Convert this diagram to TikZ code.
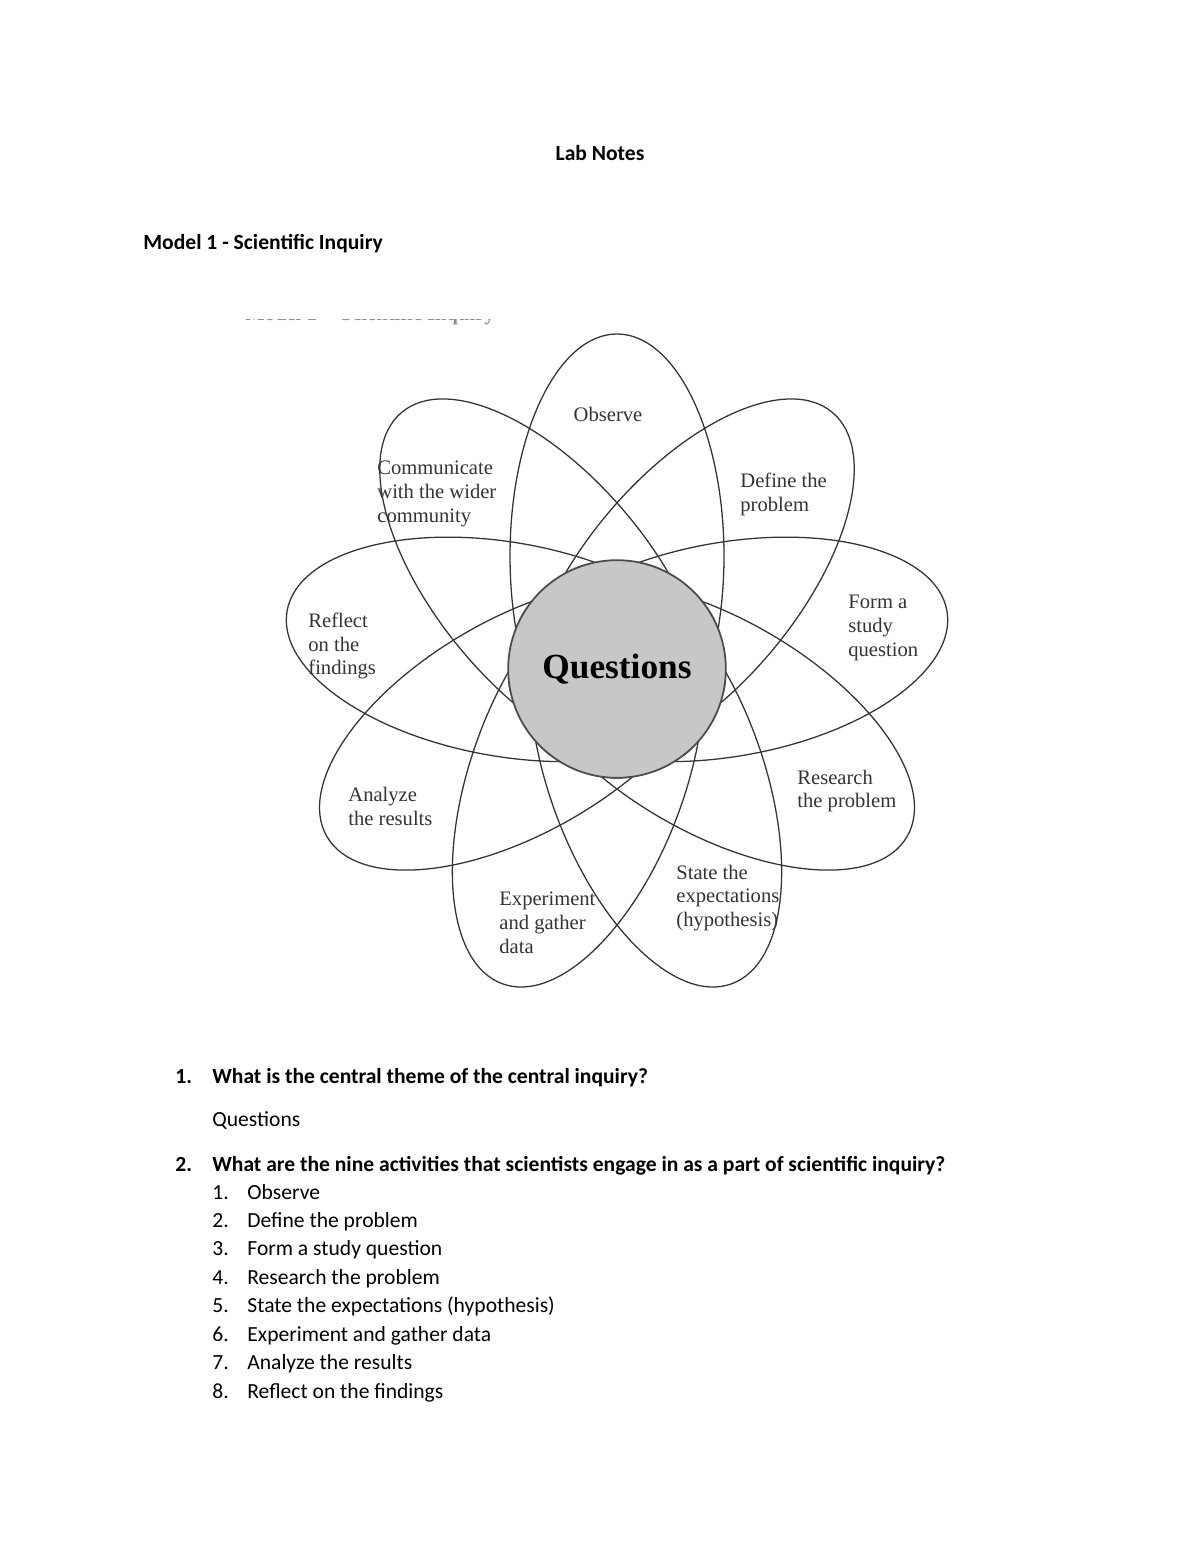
\documentclass[tikz,border=0pt]{standalone}
\usepackage{fontspec}
\setmainfont{Carlito}
\newfontfamily\bookfont{Liberation Serif}
\begin{document}
\begin{tikzpicture}[x=0.51pt,y=-0.51pt,
    body/.style={anchor=base west, inner sep=0pt, font=\fontsize{11}{13}\selectfont},
    bodybf/.style={body, font=\fontsize{11}{13}\selectfont\bfseries},
    petal/.style={draw=black!80, line width=0.65pt},
    hub/.style={circle, draw=black!70, line width=0.9pt, fill=black!22,
        minimum size=111pt, inner sep=0pt,
        font=\bookfont\bfseries\fontsize{18}{20}\selectfont},
    lbl/.style={anchor=west, align=left, inner sep=0pt, text=black!80,
        font=\bookfont\fontsize{10.5}{12.2}\selectfont}]
    \useasboundingbox (0,0) rectangle (1200,1553);

    \node [bodybf, anchor=base] (title) at (600,161) {Lab Notes};
    \node [bodybf] (model) at (143,249) {Model 1 - Scientific Inquiry};

    % cut-off caption of the scanned figure, only its lower edge shows
    \begin{scope}
        \path [clip] (240,319) rectangle (530,328);
        \node [anchor=base west, inner sep=0pt, text=black!45,
            font=\bookfont\bfseries\fontsize{10.5}{12}\selectfont] (oldcaption) at (245,320) {Model 1 -- Scientific Inquiry};
    \end{scope}

    % the inquiry flower
    \coordinate (centre) at (617,669);
    \foreach \a in {90,50,10,-30,-70,-110,-150,170,130} {
        \begin{scope}[shift={(centre)}, rotate=\a]
            \draw [petal] (113,0) ellipse (222 and 107);
        \end{scope}
    }
    \node [hub] (questions) at (centre) {Questions};

    \node [lbl, anchor=center] (observe) at (608,414) {Observe};
    \node [lbl] (define) at (740,494) {Define the\\problem};
    \node [lbl] (form) at (848,628) {Form a\\study\\question};
    \node [lbl] (research) at (797,791) {Research\\the problem};
    \node [lbl] (state) at (676,898) {State the\\expectations\\(hypothesis)};
    \node [lbl] (experiment) at (499,923) {Experiment\\and gather\\data};
    \node [lbl] (analyze) at (348,806) {Analyze\\the results};
    \node [lbl] (reflect) at (308,646) {Reflect\\on the\\findings};
    \node [lbl] (communicate) at (377,494) {Communicate\\with the wider\\community};

    % questions below the figure
    \node [bodybf] (qonenum) at (175,1083) {1.};
    \node [bodybf] (qone) at (212,1083) {What is the central theme of the central inquiry?};
    \node [body] (aone) at (212,1126) {Questions};

    \node [bodybf] (qtwonum) at (175,1171) {2.};
    \node [bodybf] (qtwo) at (212,1171) {What are the nine activities that scientists engage in as a part of scientific inquiry?};
    \foreach \t [count=\n] in {Observe, Define the problem, Form a study question,
        Research the problem, State the expectations (hypothesis),
        Experiment and gather data, Analyze the results, Reflect on the findings} {
        \node [body] (num\n) at (212,{1199+(\n-1)*28.45}) {\n.};
        \node [body] (item\n) at (247,{1199+(\n-1)*28.45}) {\t};
    }
\end{tikzpicture}
\end{document}
